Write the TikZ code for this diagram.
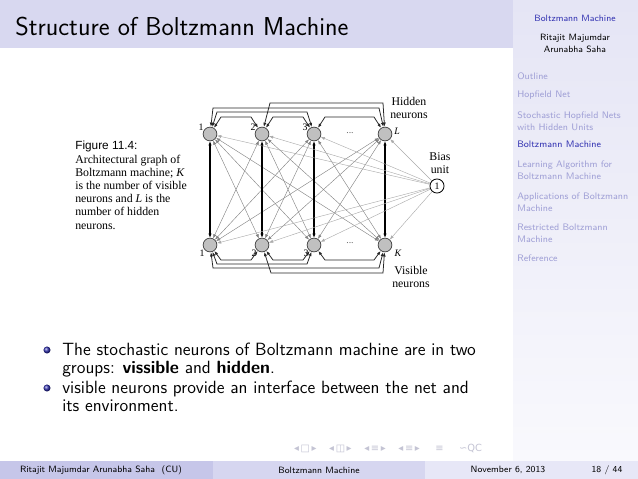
\documentclass[tikz,border=0pt]{standalone}
\usepackage{fontspec}
\newfontfamily\figserif{Liberation Serif}
\newfontfamily\figsans{Liberation Sans}
\newfontfamily\navfont{DejaVu Sans}
\usetikzlibrary{arrows.meta,calc,positioning,shadings}
\definecolor{bmblue}{RGB}{51,51,178}
\definecolor{bmhead}{RGB}{216,216,240}
\definecolor{bmsidetop}{RGB}{229,229,245}
\definecolor{bmsidebot}{RGB}{249,249,253}
\definecolor{bmfade}{RGB}{160,160,214}
\definecolor{bmfootA}{RGB}{198,198,233}
\definecolor{bmfootB}{RGB}{214,214,240}
\definecolor{bmfootC}{RGB}{231,231,247}
\definecolor{nrngray}{RGB}{192,192,192}
\definecolor{wiregray}{RGB}{130,130,130}
\definecolor{biasgray}{RGB}{170,170,170}
\definecolor{navgray}{RGB}{196,196,212}

\begin{document}
\begin{tikzpicture}[x=0.7107pt, y=-0.7107pt,
    >={Latex[length=3pt,width=2.2pt]},
    neuron/.style={circle, draw=black!75, fill=nrngray, minimum size=9.8pt, inner sep=0pt, line width=0.5pt},
    biasunit/.style={circle, draw=black, fill=white, minimum size=10pt, inner sep=0pt, line width=0.6pt, font=\figserif\fontsize{7}{7}\selectfont},
    samelink/.style={<->, line width=0.8pt, black},
    crosslink/.style={<->, line width=0.3pt, wiregray},
    biaslink/.style={->, line width=0.3pt, biasgray},
    ringlink/.style={<->, line width=0.55pt, black!85},
    numlbl/.style={font=\figserif\fontsize{7}{7}\selectfont, inner sep=0pt},
    figtext/.style={font=\figserif\fontsize{8.4}{9.4}\selectfont, inner sep=0pt},
    sideitem/.style={anchor=west, align=left, font=\sffamily\fontsize{6.7}{8.5}\selectfont, text=bmfade, inner sep=0pt},
    foottext/.style={font=\sffamily\fontsize{6.5}{6.5}\selectfont, inner sep=0pt},
    bodyline/.style={anchor=base west, font=\sffamily\fontsize{12.6}{14}\selectfont, inner sep=0pt}
  ]
  \useasboundingbox (0,0) rectangle (638,479);
  \fill[white] (0,0) rectangle (638,479);

  % frame title and sidebar
  \fill[bmhead] (0,0) rectangle (513,48);
  \shade[top color=bmsidetop, bottom color=bmsidebot] (513,0) rectangle (638,461);
  \node[anchor=base west, font=\sffamily\fontsize{18.4}{19}\selectfont, inner sep=0pt] (title) at (15,35) {Structure of Boltzmann Machine};

  \node[font=\sffamily\fontsize{6.5}{7}\selectfont, text=bmblue, inner sep=0pt] (stitle) at (575,18) {Boltzmann Machine};
  \node[font=\sffamily\fontsize{6.5}{8.5}\selectfont, align=center, inner sep=0pt] (sauthor) at (575,43) {Ritajit Majumdar\\Arunabha Saha};
  \node[sideitem] (s1) at (517,76) {Outline};
  \node[sideitem] (s2) at (517,95) {Hopfield Net};
  \node[sideitem] (s3) at (517,121) {Stochastic Hopfield Nets\\with Hidden Units};
  \node[sideitem, text=bmblue] (s4) at (517,144) {Boltzmann Machine};
  \node[sideitem] (s5) at (517,170) {Learning Algorithm for\\Boltzmann Machine};
  \node[sideitem] (s6) at (517,202) {Applications of Boltzmann\\Machine};
  \node[sideitem] (s7) at (517,233) {Restricted Boltzmann\\Machine};
  \node[sideitem] (s8) at (517,258) {Reference};

  % caption of the figure
  \node[figtext, anchor=north west, align=left] (caption) at (75,141) {{\figsans Figure 11.4:}\\Architectural graph of\\Boltzmann machine; {\itshape K}\\is the number of visible\\neurons and {\itshape L} is the\\number of hidden\\neurons.};

  % hidden neurons
  \node[neuron] (h1) at (210,134) {};
  \node[neuron] (h2) at (262,134) {};
  \node[neuron] (h3) at (314,134) {};
  \node[neuron] (hL) at (385,134) {};
  % visible neurons
  \node[neuron] (v1) at (210,245) {};
  \node[neuron] (v2) at (262,245) {};
  \node[neuron] (v3) at (314,245) {};
  \node[neuron] (vK) at (385,245) {};
  % bias unit
  \node[biasunit] (bias) at (437,186) {1};

  \node[numlbl] (h1n) at (201,127) {1};
  \node[numlbl] (h2n) at (253,127) {2};
  \node[numlbl] (h3n) at (305,127) {3};
  \node[numlbl] (hLn) at (397,131) {\itshape L};
  \node[numlbl, text=black!60] (hdots) at (350,133) {...};
  \node[numlbl] (v1n) at (202,253) {1};
  \node[numlbl] (v2n) at (254,253) {2};
  \node[numlbl] (v3n) at (306,253) {3};
  \node[numlbl] (vKn) at (398,253) {\itshape K};
  \node[numlbl, text=black!60] (vdots) at (350,243) {...};

  \node[figtext, align=center] (hcap) at (409,108) {Hidden\\neurons};
  \node[figtext, align=center] (vcap) at (411,277) {Visible\\neurons};
  \node[figtext, align=center] (bcap) at (440,163) {Bias\\unit};

  % visible to hidden
  \foreach \v in {v1,v2,v3,vK}
    \foreach \h in {h1,h2,h3,hL}
      \draw[crosslink] (\v) -- (\h);
  \foreach \v/\h in {v1/h1,v2/h2,v3/h3,vK/hL}
    \draw[samelink] (\v) -- (\h);
  % bias
  \foreach \n in {h1,h2,h3,hL,v1,v2,v3,vK}
    \draw[biaslink] (bias) -- (\n);

  % hidden to hidden
  \draw[ringlink] (h1) -- ($(h1)+(11,-17)$) -- ($(h2)+(-11,-17)$) -- (h2);
  \draw[ringlink] (h2) -- ($(h2)+(11,-17)$) -- ($(h3)+(-11,-17)$) -- (h3);
  \draw[ringlink] (h3) -- ($(h3)+(11,-17)$) -- ($(hL)+(-11,-17)$) -- (hL);
  \draw[ringlink] (h1) -- ($(h1)+(7,-22)$) -- ($(h3)+(-7,-22)$) -- (h3);
  \draw[ringlink] (h1) -- ($(h1)+(3,-26)$) -- ($(hL)+(-6,-26)$) -- (hL);
  \draw[ringlink] (h2) -- ($(h2)+(8,-31)$) -- ($(hL)+(-2,-31)$) -- (hL);
  % visible to visible
  \draw[ringlink] (v1) -- ($(v1)+(11,15)$) -- ($(v2)+(-11,15)$) -- (v2);
  \draw[ringlink] (v2) -- ($(v2)+(11,15)$) -- ($(v3)+(-11,15)$) -- (v3);
  \draw[ringlink] (v3) -- ($(v3)+(11,15)$) -- ($(vK)+(-11,15)$) -- (vK);
  \draw[ringlink] (v1) -- ($(v1)+(7,19)$) -- ($(v3)+(-7,19)$) -- (v3);
  \draw[ringlink] (v1) -- ($(v1)+(3,23)$) -- ($(vK)+(-6,23)$) -- (vK);
  \draw[ringlink] (v2) -- ($(v2)+(9,28)$) -- ($(vK)+(-2,28)$) -- (vK);

  % bullets
  \shade[ball color=bmblue] (47,350) circle (2.5pt);
  \shade[ball color=bmblue] (47,388) circle (2.5pt);
  \node[bodyline] (b1a) at (62,355) {The stochastic neurons of Boltzmann machine are in two};
  \node[bodyline] (b1b) at (62,373.5) {groups: \textbf{vissible} and \textbf{hidden}.};
  \node[bodyline] (b2a) at (62,393) {visible neurons provide an interface between the net and};
  \node[bodyline] (b2b) at (62,411.5) {its environment.};

  % navigation symbols
  \node[font=\navfont\fontsize{7}{7}\selectfont, text=navgray, inner sep=0pt] (nav) at (388,448) {◂\,□\,▸\hspace{9pt}◂\,◫\,▸\hspace{9pt}◂\,≡\,▸\hspace{9pt}◂\,≡\,▸\hspace{11pt}≡\hspace{11pt}∽QC};

  % footline
  \fill[bmfootA] (0,461) rectangle (213,479);
  \fill[bmfootB] (213,461) rectangle (425,479);
  \fill[bmfootC] (425,461) rectangle (638,479);
  \node[foottext] (fauthor) at (101,470) {Ritajit Majumdar Arunabha Saha \ (CU)};
  \node[foottext] (ftitle) at (319,470) {Boltzmann Machine};
  \node[foottext] (fdate) at (508,470) {November 6, 2013};
  \node[foottext] (fpage) at (607,470) {18 / 44};
\end{tikzpicture}
\end{document}
